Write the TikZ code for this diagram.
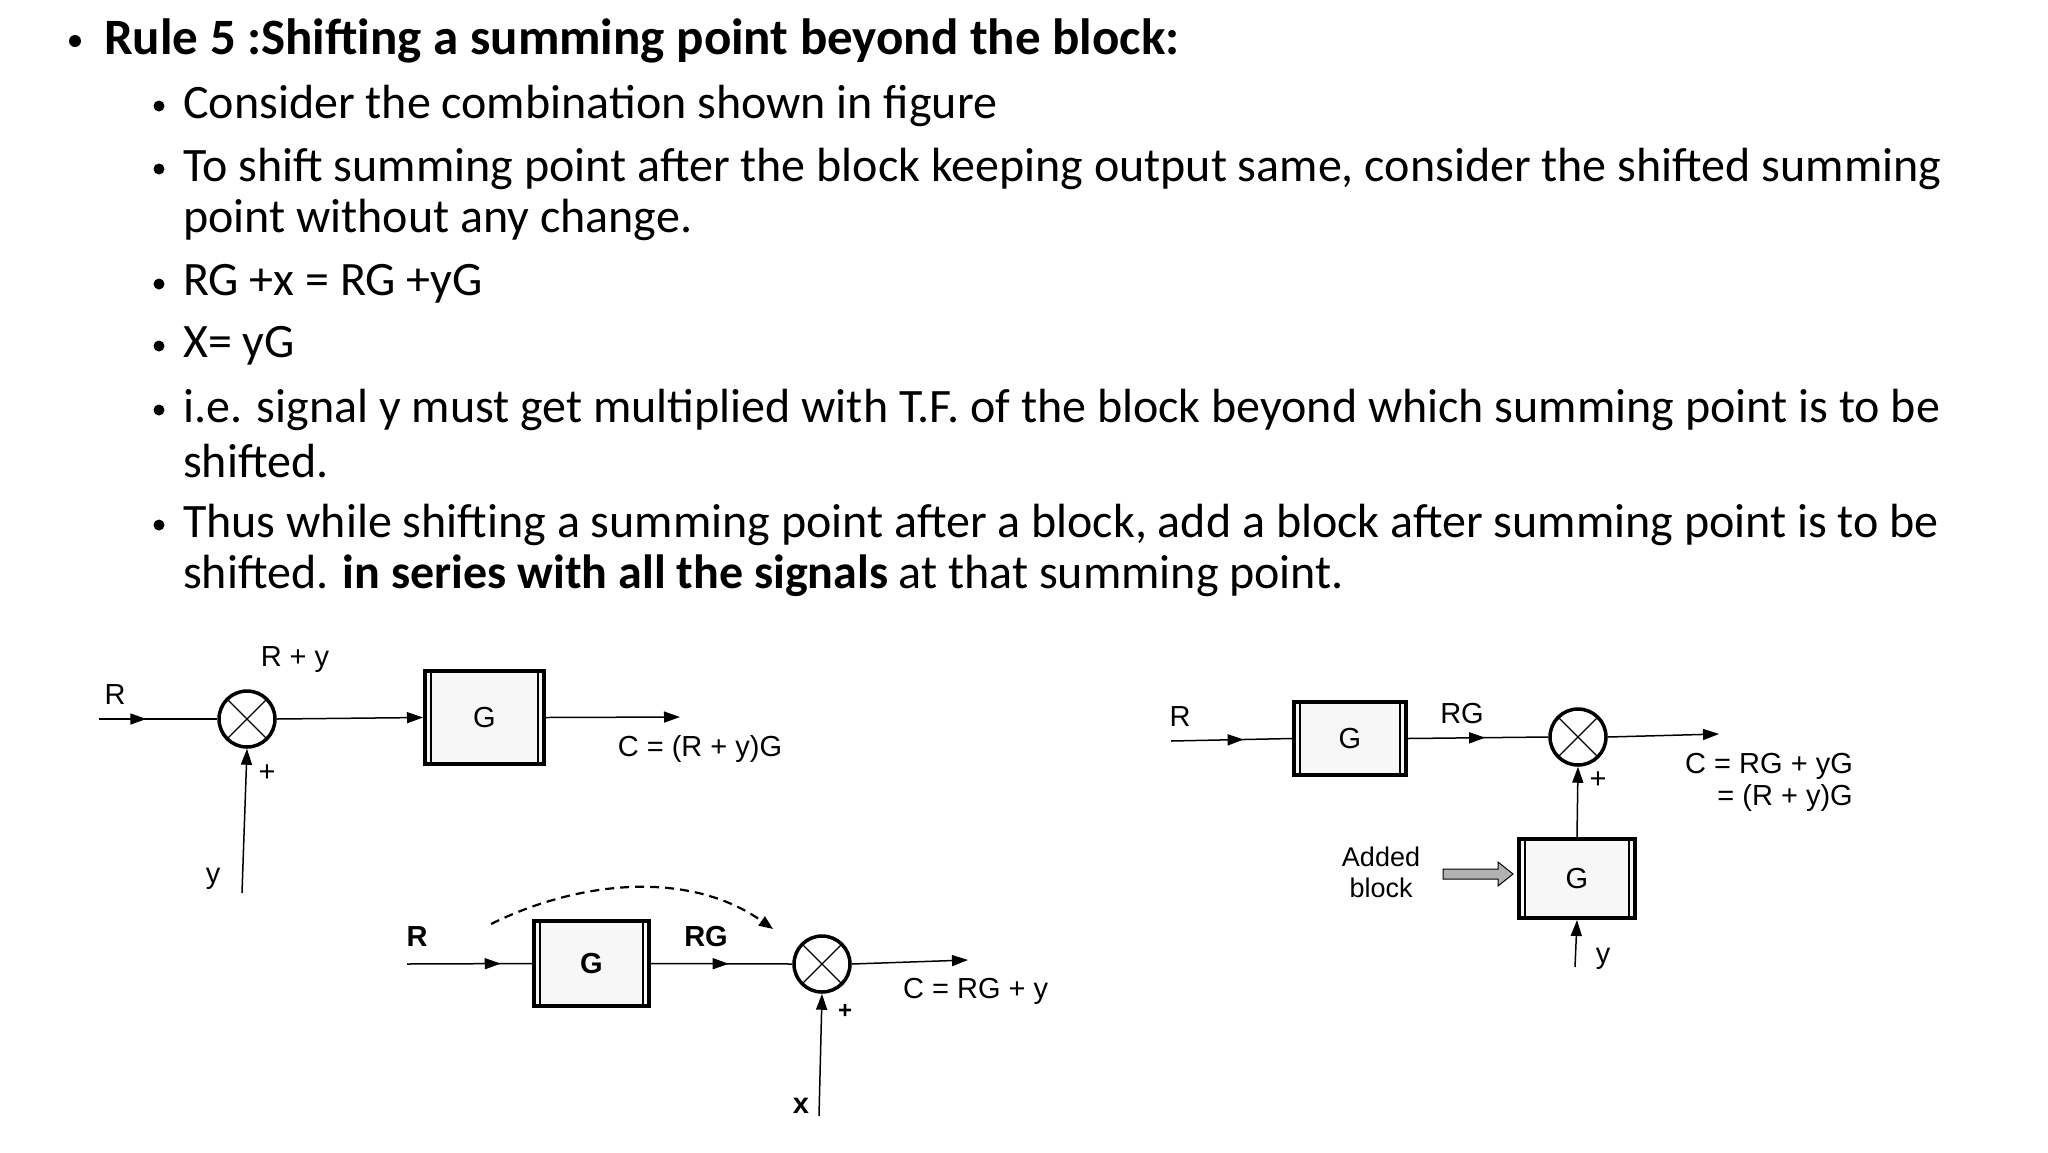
\documentclass[tikz,border=0pt]{standalone}
\usepackage{fontspec}
\setmainfont{Carlito}
\newfontfamily\diag{Liberation Sans}
\usetikzlibrary{arrows.meta,decorations.markings}
\begin{document}
\begin{tikzpicture}[x=1pt,y=-1pt,
  body/.style={anchor=west,inner sep=0,font=\fontsize{48}{56}\selectfont},
  lab/.style={inner sep=0,font=\diag\fontsize{29}{34}\selectfont},
  sum/.style={circle,draw,line width=3.5pt,minimum size=56pt,inner sep=0,
    path picture={\draw[line width=1.3pt] (path picture bounding box.north west)--(path picture bounding box.south east)
      (path picture bounding box.north east)--(path picture bounding box.south west);}},
  blk/.style={draw,line width=4pt,fill=gray!6,inner sep=0},
  sig/.style={line width=1.5pt},
  mid/.style={sig,postaction=decorate,decoration={markings,mark=at position #1 with {\arrow{Triangle[length=16pt,width=11pt]}}}},
  end/.style={sig,-{Triangle[length=16pt,width=11pt]}}
]
\useasboundingbox (0,0) rectangle (2048,1152);
% text
\fill (75,41) circle (6pt);
\node[body,font=\bfseries\fontsize{51}{60}\selectfont] (t0) at (104,41) {Rule 5 :Shifting a summing point beyond the block:};
\foreach \y in {106,169,284,346,410,525} \fill (159,\y) circle (5.5pt);
\node[body] (t1) at (183,106) {Consider the combination shown in figure};
\node[body] (t2) at (183,169) {To shift summing point after the block keeping output same, consider the shifted summing};
\node[body] (t2b) at (183,220) {point without any change.};
\node[body] (t3) at (183,284) {RG +x = RG +yG};
\node[body] (t4) at (183,346) {X= yG};
\node[body] (t5) at (183,410) {i.e. signal y must get multiplied with T.F. of the block beyond which summing point is to be};
\node[body] (t5b) at (183,461) {shifted.};
\node[body] (t6) at (183,525) {Thus while shifting a summing point after a block, add a block after summing point is to be};
\node[body] (t6b) at (183,576) {shifted. \textbf{in series with all the signals} at that summing point.};

\begin{scope}[yshift=5pt]
% diagram 1
\coordinate (r1) at (99,724);
\node[sum] (s1) at (247,724) {};
\node[blk,minimum width=119pt,minimum height=93pt] (g1) at (484.5,722.5) {};
\draw[line width=1.8pt] ([xshift=8pt]g1.north west)--([xshift=8pt]g1.south west) ([xshift=-8pt]g1.north east)--([xshift=-8pt]g1.south east);
\node[lab] (g1l) at (g1) {G};
\coordinate (o1) at (680,722);
\coordinate (y1) at (242,898);
\draw[mid=0.4] (r1) -- (s1.west);
\draw[end] (s1.east) -- (g1.west);
\draw[end] (g1.east) -- (o1);
\draw[end] (y1) -- (s1.south);
\node[lab] (l1a) at (115,700) {R};
\node[lab] (l1b) at (295,665) {R + y};
\node[lab] (l1c) at (700,754) {C = (R + y)G};
\node[lab] (l1d) at (267,778) {+};
\node[lab] (l1e) at (213,884) {y};
\end{scope}

\begin{scope}[yshift=10pt]
% diagram 2
\coordinate (r2) at (407,974);
\node[blk,minimum width=115pt,minimum height=85pt] (g2) at (591.5,973.5) {};
\draw[line width=1.8pt] ([xshift=8pt]g2.north west)--([xshift=8pt]g2.south west) ([xshift=-8pt]g2.north east)--([xshift=-8pt]g2.south east);
\node[lab,font=\diag\bfseries\fontsize{29}{34}\selectfont] (g2l) at (g2) {G};
\node[sum] (s2) at (822,974) {};
\coordinate (o2) at (968,970);
\coordinate (x2) at (819,1126);
\draw[mid=0.75] (r2) -- (g2.west);
\draw[mid=0.55] (g2.east) -- (s2.west);
\draw[end] (s2.east) -- (o2);
\draw[end] (x2) -- (s2.south);
\coordinate (d1) at (491,934);
\coordinate (d2) at (773,939);
\draw[line width=2.2pt,dash pattern=on 9pt off 6pt,-{Triangle[length=14pt,width=11pt]}] (d1) .. controls (580,890) and (690,880) .. (d2);
\node[lab,font=\diag\bfseries\fontsize{29}{34}\selectfont] (l2a) at (417,947) {R};
\node[lab,font=\diag\bfseries\fontsize{29}{34}\selectfont] (l2b) at (706,947) {RG};
\node[lab,anchor=west] (l2c) at (903,1001) {C = RG + y};
\node[lab,font=\diag\bfseries\fontsize{24}{30}\selectfont] (l2d) at (845,1021) {+};
\node[lab,font=\diag\bfseries\fontsize{29}{34}\selectfont] (l2e) at (801,1116) {x};
\end{scope}

\begin{scope}[xshift=-14pt,yshift=7pt]
% diagram 3
\coordinate (r3) at (1185,748);
\node[blk,minimum width=112pt,minimum height=73pt] (g3) at (1364,745.5) {};
\draw[line width=1.8pt] ([xshift=8pt]g3.north west)--([xshift=8pt]g3.south west) ([xshift=-8pt]g3.north east)--([xshift=-8pt]g3.south east);
\node[lab] (g3l) at (g3) {G};
\node[sum] (s3) at (1592,744) {};
\coordinate (o3) at (1733,741);
\node[blk,minimum width=116pt,minimum height=79pt] (g4) at (1591,885.5) {};
\draw[line width=1.8pt] ([xshift=8pt]g4.north west)--([xshift=8pt]g4.south west) ([xshift=-8pt]g4.north east)--([xshift=-8pt]g4.south east);
\node[lab] (g4l) at (g4) {G};
\coordinate (y3) at (1589,974);
\draw[mid=0.6] (r3) -- (g3.west);
\draw[mid=0.55] (g3.east) -- (s3.west);
\draw[end] (s3.east) -- (o3);
\draw[end] (g4.north) -- (s3.south);
\draw[end] (y3) -- (g4.south);
\node[lab] (l3a) at (1194,724) {R};
\node[lab] (l3b) at (1476,721) {RG};
\node[lab,anchor=east] (l3c) at (1867,773) {C = RG + yG};
\node[lab,anchor=east] (l3d) at (1867,805) {= (R + y)G};
\node[lab] (l3e) at (1612,787) {+};
\node[lab] (l3f) at (1617,966) {y};
\node[lab,align=center,font=\diag\fontsize{27}{31}\selectfont] (l3g) at (1395,879) {Added\\block};
\coordinate (a1) at (1457,881);
\coordinate (a2) at (1527,881);
\fill[gray!60,draw=black,line width=1pt] ([yshift=-5pt]a1) -- ([xshift=-15pt,yshift=-5pt]a2) -- ([xshift=-15pt,yshift=-12pt]a2) -- (a2) -- ([xshift=-15pt,yshift=12pt]a2) -- ([xshift=-15pt,yshift=5pt]a2) -- ([yshift=5pt]a1) -- cycle;
\end{scope}
\end{tikzpicture}
\end{document}
